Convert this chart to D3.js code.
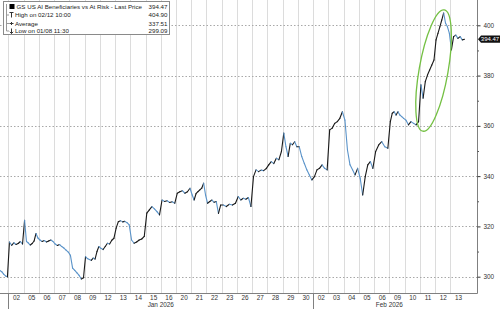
<!DOCTYPE html>
<html>
<head>
<meta charset="utf-8">
<script src="https://cdn.jsdelivr.net/npm/d3@7"></script>
<style>
body { margin: 0; background: #fff; }
svg { display: block; font-family: "Liberation Sans", Arial, sans-serif; }
</style>
</head>
<body>
<div id="chart"></div>
<script>
// Trading days shown on the axis (Dec 31 is only partly visible on the left)
const sessionDates = ["12/31", "01/02", "01/05", "01/06", "01/07", "01/08", "01/09", "01/12", "01/13", "01/14",
    "01/15", "01/16", "01/20", "01/21", "01/22", "01/23", "01/26", "01/27", "01/28", "01/29",
    "01/30", "02/02", "02/03", "02/04", "02/05", "02/06", "02/09", "02/10", "02/11", "02/12", "02/13"];

// Intraday prices, one list per session
const sessionPrices = [
    [305.0, 304.0, 303.5, 302.5, 302.0, 301.0, 300.3, 300.0],
    [313.8, 312.5, 313.5, 312.8, 313.2, 314.0, 313.0],
    [322.4, 314.0, 313.4, 312.6, 313.2, 314.2, 317.2, 315.4],
    [314.6, 314.0, 314.4, 313.8, 314.2, 314.6, 314.0],
    [313.0, 312.4, 312.8, 312.0, 311.4, 310.6, 309.8],
    [308.5, 303.4, 302.5, 301.5, 300.5, 299.1, 299.6],
    [308.0, 307.2, 306.8, 306.5, 307.4, 307.0, 310.0, 312.0],
    [311.3, 310.8, 312.0, 313.3, 313.0, 314.5, 315.3],
    [319.3, 321.9, 322.3, 321.8, 322.0, 321.5, 320.6],
    [314.6, 313.3, 313.8, 314.6, 315.0, 316.0],
    [325.3, 326.6, 327.9, 327.0, 325.9, 324.6],
    [330.5, 329.9, 330.2, 329.5, 329.8, 329.2],
    [333.2, 333.8, 334.2, 333.2, 333.8, 335.2],
    [332.5, 330.5, 333.0, 333.8, 334.5, 335.2, 337.2, 332.5],
    [329.2, 329.9, 330.5, 329.6, 329.9, 325.2, 328.5],
    [328.5, 327.9, 328.8, 328.5, 329.2],
    [331.9, 330.5, 331.2, 330.8, 331.5, 327.9],
    [339.8, 342.5, 341.8, 342.4, 342.2, 343.0],
    [344.5, 345.8, 345.0, 347.1, 346.5, 349.8],
    [357.1, 351.7, 347.8, 353.1, 352.5, 353.7, 351.7],
    [351.7, 347.8, 345.1, 342.5, 340.5, 338.5],
    [339.8, 342.5, 343.1, 344.5, 343.1, 342.5],
    [358.4, 359.1, 361.0, 361.7, 363.0, 365.6],
    [362.3, 350.4, 344.5, 342.5, 340.5, 343.1],
    [339.2, 332.5, 339.8, 344.5, 345.8, 343.1],
    [349.8, 352.4, 353.7, 351.7, 351.1],
    [361.7, 365.0, 365.6, 364.3, 365.6, 364.3, 363.7, 363.0],
    [362.3, 360.4, 361.7, 361.0, 360.4, 361.7],
    [376.3, 371.0, 377.6, 380.2, 382.2, 384.2, 386.2],
    [394.2, 396.8, 399.4, 402.1, 404.9, 400.8, 399.4, 396.8],
    [390.2, 395.5, 396.1, 394.8, 395.5, 394.2, 394.47]
];

const dayLabels = ["02", "05", "06", "07", "08", "09", "12", "13", "14", "15", "16", "20", "21", "22", "23",
    "26", "27", "28", "29", "30", "02", "03", "04", "05", "06", "09", "10", "11", "12", "13"];
const monthLabels = ["Jan 2026", "Feb 2026"];
const monthStarts = [0, 20, 30];   // day index where each month starts / ends

const yMajorTicks = [300, 320, 340, 360, 380, 400];
const yMinorTicks = [310, 330, 350, 370, 390];

const legendNames = ["GS US AI Beneficiaries vs At Risk - Last Price", "High on 02/12 10:00", "Average", "Low on 01/08 11:30"];
const legendValues = ["394.47", "404.90", "337.51", "299.09"];
const lastPrice = 394.47;

// circled region (day index, price) and its half sizes in days / price
const highlight = {day: 27.9, price: 382, rDay: 0.95, rPrice: 24.5, tilt: 10};

const width = 500, height = 309;
const plotRight = 477, plotBottom = 293;

let svg = d3.select("#chart").append("svg")
    .attr("width", width)
    .attr("height", height);

// x is a day index; day i covers [i, i+1]
let x = d3.scaleLinear().domain([-0.55, 30.75]).range([0, plotRight]);
let y = d3.scaleLinear().domain([300, 400]).range([276.7, 25.3]);

svg.append("clipPath").attr("id", "plotClip")
    .append("rect").attr("x", 0).attr("y", 0).attr("width", plotRight).attr("height", plotBottom);

// vertical day grid lines
svg.append("g").selectAll("line")
    .data(d3.range(0, dayLabels.length))
    .enter().append("line")
    .attr("x1", d => Math.round(x(d)) + 0.5)
    .attr("x2", d => Math.round(x(d)) + 0.5)
    .attr("y1", 0)
    .attr("y2", plotBottom)
    .attr("stroke", "#dcdcdc")
    .attr("stroke-width", 1);

// horizontal dotted grid
svg.append("g").selectAll("line")
    .data(yMajorTicks)
    .enter().append("line")
    .attr("x1", 0)
    .attr("x2", plotRight)
    .attr("y1", d => Math.round(y(d)) + 0.5)
    .attr("y2", d => Math.round(y(d)) + 0.5)
    .attr("stroke", "#a8a8a8")
    .attr("stroke-dasharray", "1.5,2")
    .attr("stroke-width", 1);

// flatten sessions into timed points
let points = [];
sessionPrices.forEach(function(vals, i) {
    let day = i - 1;
    vals.forEach(function(v, j) {
        points.push({t: day + (j + 0.5) / vals.length, v: v});
    });
});

// price line, black on up moves and blue on down moves
svg.append("g")
    .attr("clip-path", "url(#plotClip)")
    .selectAll("line")
    .data(d3.pairs(points))
    .enter().append("line")
    .attr("x1", d => x(d[0].t))
    .attr("y1", d => y(d[0].v))
    .attr("x2", d => x(d[1].t))
    .attr("y2", d => y(d[1].v))
    .attr("stroke", d => d[1].v < d[0].v ? "#5a93c9" : "#1a1a1a")
    .attr("stroke-width", 1.1)
    .attr("stroke-linecap", "round");

// green ellipse annotation
let pxPerDay = x(1) - x(0), pxPerPrice = Math.abs(y(1) - y(0));
svg.append("ellipse")
    .attr("transform", `translate(${x(highlight.day)}, ${y(highlight.price)}) rotate(${highlight.tilt})`)
    .attr("rx", highlight.rDay * pxPerDay)
    .attr("ry", highlight.rPrice * pxPerPrice)
    .attr("fill", "none")
    .attr("stroke", "#74c043")
    .attr("stroke-width", 1.3);

// frame
svg.append("line")
    .attr("x1", plotRight + 0.5).attr("x2", plotRight + 0.5)
    .attr("y1", 0).attr("y2", plotBottom + 0.5)
    .attr("stroke", "#808080");
svg.append("line")
    .attr("x1", 0).attr("x2", plotRight + 0.5)
    .attr("y1", plotBottom + 0.5).attr("y2", plotBottom + 0.5)
    .attr("stroke", "#808080");

// right y axis
let yAxis = svg.append("g")
    .attr("transform", `translate(${plotRight + 0.5}, 0)`)
    .call(d3.axisRight(y).tickValues(yMajorTicks).tickSize(3).tickPadding(3).tickFormat(d3.format("d")));
yAxis.select(".domain").remove();
yAxis.selectAll("text").style("font-size", "6.4px").attr("fill", "#333");
yAxis.selectAll("line").attr("stroke", "#333");

let yMinor = svg.append("g")
    .attr("transform", `translate(${plotRight + 0.5}, 0)`)
    .call(d3.axisRight(y).tickValues(yMinorTicks).tickSize(1.5).tickFormat(""));
yMinor.select(".domain").remove();
yMinor.selectAll("line").attr("stroke", "#555");

// bottom x axis, labels in the middle of each day
let xAxis = svg.append("g")
    .attr("transform", `translate(0, ${plotBottom})`)
    .call(d3.axisBottom(x)
        .tickValues(d3.range(0, dayLabels.length).map(d => d + 0.5))
        .tickSize(0).tickPadding(2)
        .tickFormat((d, i) => dayLabels[i]));
xAxis.select(".domain").remove();
xAxis.selectAll("text").style("font-size", "6.4px").attr("fill", "#333");

// month separators and labels
svg.append("g").selectAll("line")
    .data(monthStarts.slice(0, 2))
    .enter().append("line")
    .attr("x1", d => Math.round(x(d)) + 0.5)
    .attr("x2", d => Math.round(x(d)) + 0.5)
    .attr("y1", plotBottom)
    .attr("y2", height)
    .attr("stroke", "#808080");

svg.append("g").selectAll("text")
    .data(monthLabels)
    .enter().append("text")
    .attr("x", (d, i) => (x(monthStarts[i]) + x(monthStarts[i + 1])) / 2)
    .attr("y", 307)
    .style("text-anchor", "middle")
    .style("font-size", "6.4px")
    .attr("fill", "#333")
    .text(d => d);

// last price tag
let tagY = y(lastPrice);
svg.append("path")
    .attr("d", `M${plotRight + 1},${tagY} L${plotRight + 4},${tagY - 3.6} L${width},${tagY - 3.6} L${width},${tagY + 3.6} L${plotRight + 4},${tagY + 3.6} Z`)
    .attr("fill", "#111");
svg.append("text")
    .attr("x", 490)
    .attr("y", tagY + 2.1)
    .style("text-anchor", "middle")
    .style("font-size", "6px")
    .attr("fill", "#fff")
    .text(d3.format(".2f")(lastPrice));

// legend box
let legend = svg.append("g");
legend.append("rect")
    .attr("x", 3.5).attr("y", 1.5)
    .attr("width", 166).attr("height", 33)
    .attr("fill", "#fff")
    .attr("stroke", "#8a8a8a");

let rowY = [6.5, 15, 23.5, 31];
// tree connector
legend.append("line")
    .attr("x1", 6.5).attr("x2", 6.5).attr("y1", 4).attr("y2", rowY[3])
    .attr("stroke", "#999");
rowY.slice(1).forEach(function(ry) {
    legend.append("line")
        .attr("x1", 6.5).attr("x2", 9).attr("y1", ry).attr("y2", ry)
        .attr("stroke", "#999");
});
// series swatch
legend.append("rect")
    .attr("x", 9.5).attr("y", rowY[0] - 2.5)
    .attr("width", 5).attr("height", 5)
    .attr("fill", "#000");
// high, average, low markers
legend.append("path")
    .attr("d", `M9.5,${rowY[1] - 2.5} h4 M11.5,${rowY[1] - 2.5} v5`)
    .attr("stroke", "#333").attr("fill", "none");
legend.append("path")
    .attr("d", `M9.5,${rowY[2]} h4 M11.5,${rowY[2] - 1.5} v3`)
    .attr("stroke", "#333").attr("fill", "none");
legend.append("path")
    .attr("d", `M11.5,${rowY[3] - 2.5} v5 M9.8,${rowY[3] + 0.8} l1.7,1.7 l1.7,-1.7`)
    .attr("stroke", "#333").attr("fill", "none");

legend.selectAll("text.name")
    .data(legendNames)
    .enter().append("text")
    .attr("class", "name")
    .attr("x", (d, i) => i === 0 ? 16.5 : 15)
    .attr("y", (d, i) => rowY[i] + 2.2)
    .style("font-size", "6.2px")
    .attr("fill", "#222")
    .text(d => d);

legend.selectAll("text.value")
    .data(legendValues)
    .enter().append("text")
    .attr("class", "value")
    .attr("x", 167.5)
    .attr("y", (d, i) => rowY[i] + 2.2)
    .style("text-anchor", "end")
    .style("font-size", "6.2px")
    .attr("fill", "#222")
    .text(d => d);
</script>
</body>
</html>
